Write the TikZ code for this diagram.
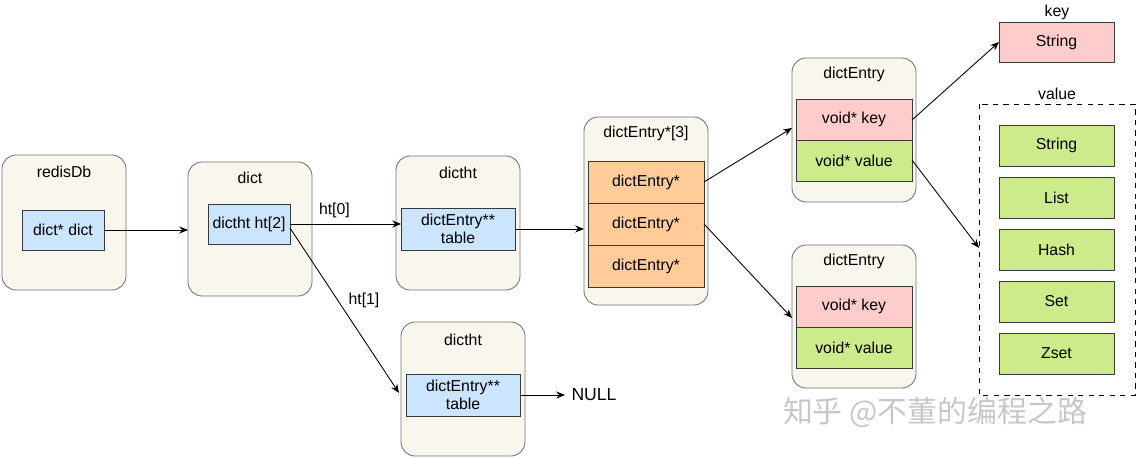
\documentclass[tikz,border=0pt]{standalone}
\usepackage{fontspec}
\setmainfont{Liberation Sans}
\newfontfamily\cjk{Noto Sans CJK SC}
\usetikzlibrary{arrows.meta}
\definecolor{outerf}{HTML}{F9F7ED}
\definecolor{outerd}{HTML}{36393D}
\definecolor{bluef}{HTML}{CCE5FF}
\definecolor{orangef}{HTML}{FFCC99}
\definecolor{pinkf}{HTML}{FFCCCC}
\definecolor{greenf}{HTML}{CDEB8B}
\begin{document}
\begin{tikzpicture}[x=0.02cm,y=-0.02cm,font=\fontsize{9}{10.5}\selectfont,
 outer/.style={draw=outerd!70,fill=outerf,rounded corners=8pt,line width=0.5pt},
 inner/.style={draw=outerd,line width=0.5pt,align=center},
 lab/.style={inner sep=0},
 arr/.style={-{Stealth[length=5pt,width=4pt]},line width=0.5pt}]
\useasboundingbox (0,0) rectangle (1136,459);
% outer boxes
\draw[outer] (2,155) rectangle (126,290);
\draw[outer] (188,162) rectangle (312,296);
\draw[outer] (396,156) rectangle (520,290);
\draw[outer] (401,322) rectangle (525,456);
\draw[outer] (584,117) rectangle (708,305);
\draw[outer] (792,58) rectangle (916,202);
\draw[outer] (792,245) rectangle (916,388);
\draw[dashed,line width=0.5pt] (979,104) rectangle (1135,395);
% labels
\node[lab] (lr) at (64,172) {redisDb};
\node[lab] (ld) at (250,178) {dict};
\node[lab] (lt1) at (458,173) {dictht};
\node[lab] (lt2) at (463,340) {dictht};
\node[lab] (le) at (646,133) {dictEntry*[3]};
\node[lab] (ld1) at (854,74) {dictEntry};
\node[lab] (ld2) at (854,261) {dictEntry};
\node[lab] (lk) at (1057,12) {key};
\node[lab] (lv) at (1057,94) {value};
% inner boxes
\draw[inner,fill=bluef] (22,210) rectangle (104,250) node[midway] (dd) {dict* dict};
\draw[inner,fill=bluef] (208,204) rectangle (290,244) node[midway] (ht) {dictht ht[2]};
\draw[inner,fill=bluef] (401,208) rectangle (515,250);
\node[align=center] (t1) at (458,229) {dictEntry**\\table};
\draw[inner,fill=bluef] (406,374) rectangle (520,416);
\node[align=center] (t2) at (463,395) {dictEntry**\\table};
\draw[inner,fill=orangef] (588,161) rectangle (704,203) node[midway] (e1) {dictEntry*};
\draw[inner,fill=orangef] (588,203) rectangle (704,245) node[midway] (e2) {dictEntry*};
\draw[inner,fill=orangef] (588,245) rectangle (704,287) node[midway] (e3) {dictEntry*};
\draw[inner,fill=pinkf] (796,99) rectangle (912,140) node[midway] (k1) {void* key};
\draw[inner,fill=greenf] (796,140) rectangle (912,181) node[midway] (v1) {void* value};
\draw[inner,fill=pinkf] (796,286) rectangle (912,327) node[midway] (k2) {void* key};
\draw[inner,fill=greenf] (796,327) rectangle (912,368) node[midway] (v2) {void* value};
\draw[inner,fill=pinkf] (999,22) rectangle (1114,62) node[midway] (ks) {String};
\draw[inner,fill=greenf] (999,125) rectangle (1114,166) node[midway] {String};
\draw[inner,fill=greenf] (999,177) rectangle (1114,218) node[midway] {List};
\draw[inner,fill=greenf] (999,229) rectangle (1114,270) node[midway] {Hash};
\draw[inner,fill=greenf] (999,281) rectangle (1114,322) node[midway] {Set};
\draw[inner,fill=greenf] (999,333) rectangle (1114,374) node[midway] {Zset};
\node[font=\fontsize{10}{12}\selectfont] (null) at (594,395) {NULL};
% coordinates
\coordinate (a1) at (104,230); \coordinate (a2) at (188,230);
\coordinate (b0) at (290,224); \coordinate (b1) at (401,224);
\coordinate (c0) at (290,228); \coordinate (c1) at (399,393);
\coordinate (d0) at (515,229); \coordinate (d1) at (584,229);
\coordinate (f0) at (520,395); \coordinate (f1) at (565,395);
\coordinate (g0) at (704,182); \coordinate (g1) at (792,128);
\coordinate (h0) at (704,224); \coordinate (h1) at (792,318);
\coordinate (i0) at (912,120); \coordinate (i1) at (999,42);
\coordinate (j0) at (912,160); \coordinate (j1) at (979,248);
\draw[arr] (a1) -- (a2);
\draw[arr] (b0) -- node[above,pos=0.4] {ht[0]} (b1);
\draw[arr] (c0) -- (c1);
\node at (364,300) {ht[1]};
\draw[arr] (d0) -- (d1);
\draw[arr] (f0) -- (f1);
\draw[arr] (g0) -- (g1);
\draw[arr] (h0) -- (h1);
\draw[arr] (i0) -- (i1);
\draw[arr] (j0) -- (j1);
\node[text=black!22,font=\cjk\fontsize{17}{19}\selectfont] (wm) at (935,412) {知乎 @不董的编程之路};
\end{tikzpicture}
\end{document}
